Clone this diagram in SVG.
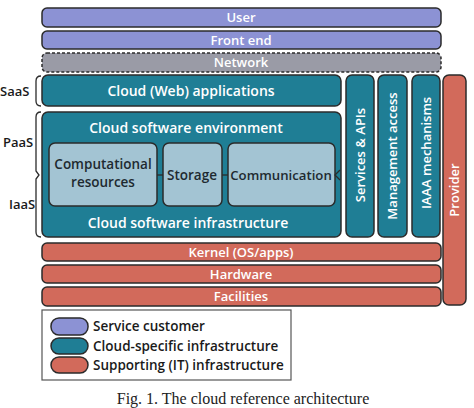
<svg xmlns="http://www.w3.org/2000/svg" width="474" height="408" viewBox="0 0 474 408">
<style>
.b{stroke:#2b2b2b;stroke-width:1.5}
.cu{fill:#8c92d4}
.net{fill:#9a9ba6;stroke-dasharray:3 2}
.cl{fill:#1f7e95}
.in{fill:#a3c4d3}
.su{fill:#d26a5b}
.t{font-family:"Open Sans","DejaVu Sans",sans-serif;font-weight:600;fill:#fff;text-anchor:middle}
.d{font-family:"Open Sans","DejaVu Sans",sans-serif;font-weight:600;fill:#1e2a30;text-anchor:middle}
.l{font-family:"Open Sans","DejaVu Sans",sans-serif;font-weight:600;fill:#1a1a1a}
.br{fill:none;stroke:#2b2b2b;stroke-width:1.3}
</style>
<rect width="474" height="408" fill="#fff"/>
<g id="user"><rect class="b cu" x="42" y="8" width="399" height="19" rx="5"/><text class="t" x="241" y="22" font-size="13">User</text></g>
<g id="frontend"><rect class="b cu" x="42" y="31" width="399" height="18" rx="5"/><text class="t" x="241" y="45" font-size="13">Front  end</text></g>
<g id="network"><rect class="b net" x="42" y="53" width="399" height="19" rx="5"/><text class="t" x="241" y="67" font-size="13">Network</text></g>
<g id="saas"><rect class="b cl" x="42" y="75" width="299" height="31" rx="6"/><text class="t" x="191" y="96" font-size="14">Cloud (Web) applications</text></g>
<g id="paas-iaas"><rect class="b cl" x="42" y="112" width="299" height="125" rx="6"/>
<text class="t" x="186" y="133" font-size="14">Cloud software environment</text>
<text class="t" x="188" y="228" font-size="14">Cloud software infrastructure</text></g>
<g id="computational"><rect class="b in" x="49" y="143" width="108" height="63" rx="6"/><text class="d" x="103" y="169" font-size="13.5">Computational</text><text class="d" x="103" y="187" font-size="13.5">resources</text></g>
<g id="storage"><rect class="b in" x="163" y="143" width="59" height="63" rx="6"/><text class="d" x="192" y="180" font-size="13.5">Storage</text></g>
<g id="communication"><rect class="b in" x="228" y="143" width="107" height="63" rx="6"/><text class="d" x="281" y="180" font-size="13.2">Communication</text></g>
<g id="services"><rect class="b cl" x="346" y="75" width="28" height="162" rx="6"/><text class="t" font-size="13" transform="translate(365,155) rotate(-90)">Services &amp; APIs</text></g>
<g id="management"><rect class="b cl" x="378" y="75" width="29" height="162" rx="6"/><text class="t" font-size="13" transform="translate(397,156) rotate(-90)">Management access</text></g>
<g id="iaaa"><rect class="b cl" x="412" y="75" width="28" height="162" rx="6"/><text class="t" font-size="13" transform="translate(431,153) rotate(-90)">IAAA mechanisms</text></g>
<g id="provider"><rect class="b su" x="443" y="75" width="23" height="230" rx="6"/><text class="t" font-size="13" transform="translate(459,190) rotate(-90)">Provider</text></g>
<g id="kernel"><rect class="b su" x="42" y="243" width="399" height="18" rx="5"/><text class="t" x="241" y="257" font-size="13">Kernel (OS/apps)</text></g>
<g id="hardware"><rect class="b su" x="42" y="265" width="399" height="18" rx="5"/><text class="t" x="241" y="279" font-size="13">Hardware</text></g>
<g id="facilities"><rect class="b su" x="42" y="287" width="399" height="19" rx="5"/><text class="t" x="241" y="301" font-size="13">Facilities</text></g>
<g id="connectors">
<line class="br" x1="157" y1="175" x2="163" y2="175"/>
<line class="br" x1="222" y1="175" x2="228" y2="175"/>
<polyline class="br" points="340,170 335,175 340,180"/>
<path class="br" d="M41,76 Q36,76 36,81 V101 Q36,106 41,106"/>
<path class="br" d="M41,112 Q36,112 36,117 V171 L39,175 L36,179 V232 Q36,237 41,237"/>
</g>
<g id="labels">
<text class="l" x="0" y="96" font-size="13">SaaS</text>
<text class="l" x="3" y="147" font-size="13">PaaS</text>
<text class="l" x="9" y="209" font-size="13">IaaS</text>
</g>
<g id="legend">
<rect x="42" y="310" width="249" height="70" fill="#fff" stroke="#555" stroke-width="1.2"/>
<rect class="b cu" x="51" y="318" width="37" height="17" rx="8"/>
<rect class="b cl" x="51" y="338" width="37" height="16" rx="8"/>
<rect class="b su" x="51" y="357" width="37" height="16" rx="8"/>
<text class="l" x="93" y="331" font-size="13.5">Service customer</text>
<text class="l" x="93" y="351" font-size="13.5">Cloud-specific infrastructure</text>
<text class="l" x="93" y="370" font-size="13.5">Supporting (IT) infrastructure</text>
</g>
<text x="243" y="404" font-family="Liberation Serif,serif" font-size="16" fill="#222" text-anchor="middle">Fig. 1. The cloud reference architecture</text>
</svg>
